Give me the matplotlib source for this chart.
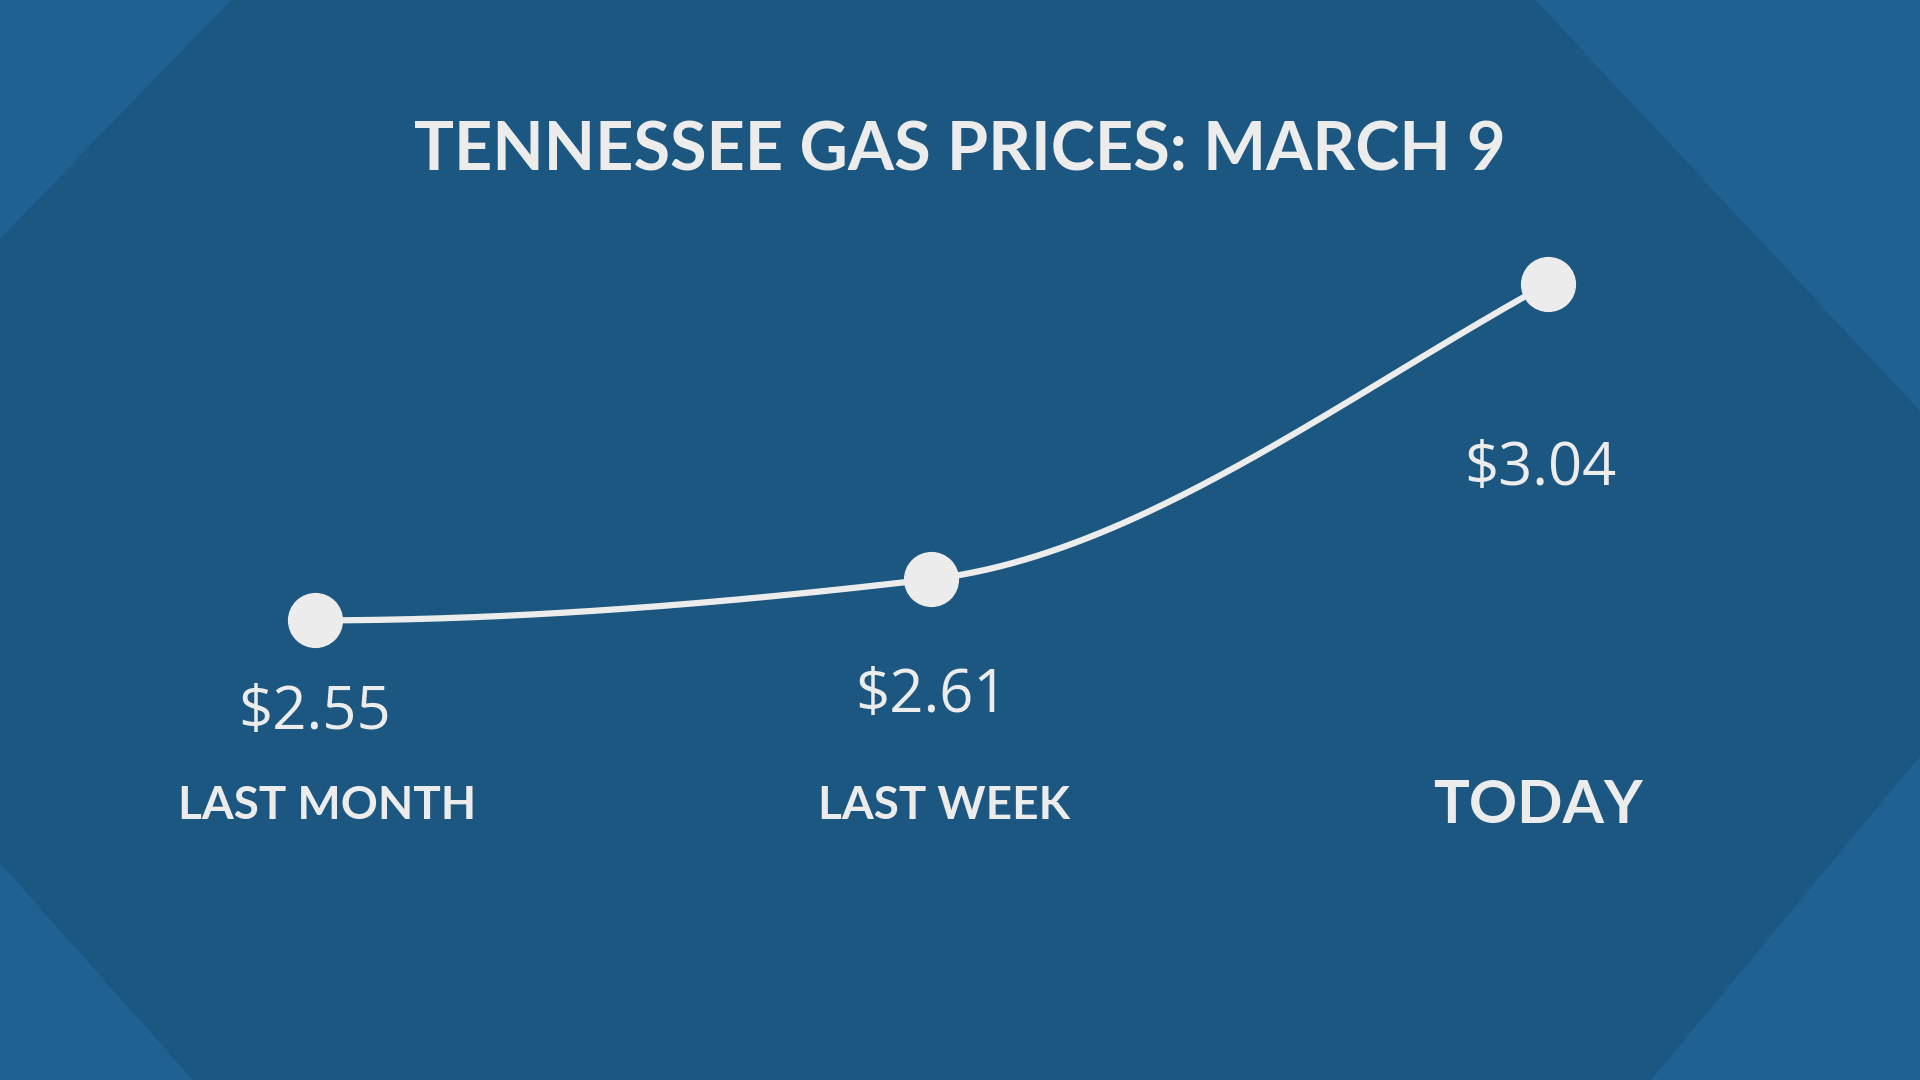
import numpy as np
import matplotlib
matplotlib.use("Agg")
import matplotlib.pyplot as plt
from matplotlib.patches import Polygon

title = "TENNESSEE GAS PRICES: MARCH 9"
categories = ["LAST MONTH", "LAST WEEK", "TODAY"]
prices = [2.55, 2.61, 3.04]
price_labels = ["$2.55", "$2.61", "$3.04"]

BG = "#1b5780"
LIGHT = "#1e6192"
WHITE = "#ececec"

fig = plt.figure(figsize=(19.2, 10.8), dpi=100, facecolor=BG)
bg = fig.add_axes([0, 0, 1, 1], zorder=0)
bg.set_xlim(0, 1); bg.set_ylim(0, 1); bg.axis("off")
bg.add_patch(Polygon([[0, 1], [0.12, 1], [0, 0.78]], color=LIGHT))
bg.add_patch(Polygon([[0.80, 1], [1, 1], [1, 0.62]], color=LIGHT))
bg.add_patch(Polygon([[0, 0], [0, 0.20], [0.10, 0]], color=LIGHT))
bg.add_patch(Polygon([[0.86, 0], [1, 0], [1, 0.30]], color=LIGHT))

ax = fig.add_axes([0, 0, 1, 1], zorder=1)
ax.set_facecolor("none")
ax.set_xlim(-0.511, 2.604)
ax.set_ylim(1.881, 3.453)
ax.axis("off")

# smooth monotone Hermite curve through the data points
x = np.arange(len(prices), dtype=float)
y = np.array(prices)
d = np.diff(y)
m = np.zeros_like(y)
m[0] = 0.0
m[1:-1] = 2 * d[:-1] * d[1:] / (d[:-1] + d[1:])
m[-1] = d[-1] * 1.15
xs, ys = [], []
for i in range(len(x) - 1):
    t = np.linspace(0, 1, 100)
    h00 = 2*t**3 - 3*t**2 + 1; h10 = t**3 - 2*t**2 + t
    h01 = -2*t**3 + 3*t**2; h11 = t**3 - t**2
    xs.append(x[i] + t)
    ys.append(h00*y[i] + h10*m[i] + h01*y[i+1] + h11*m[i+1])
ax.plot(np.concatenate(xs), np.concatenate(ys), color=WHITE, lw=4.5, solid_capstyle="round")
ax.scatter(x, prices, s=1500, color=WHITE, zorder=3)

label_offsets = [-0.135, -0.17, -0.27]
for i, (p, lab, off) in enumerate(zip(prices, price_labels, label_offsets)):
    ax.text(i - (0.012 if i == 2 else 0), p + off, lab, ha="center", va="center",
            color=WHITE, fontsize=43, family="Open Sans")

cat_x = [0.02, 0.02, -0.015]
for i, (c, dx) in enumerate(zip(categories, cat_x)):
    ax.text(i + dx, 2.28, c, ha="center", va="center", color=WHITE,
            fontsize=33 if i < 2 else 43, family="Lato", fontweight="bold")

fig.text(0.5, 0.86, title, ha="center", va="center", color=WHITE,
         fontsize=48, family="Lato", fontweight="bold")

fig.savefig("out.png", dpi=100, facecolor=BG)
